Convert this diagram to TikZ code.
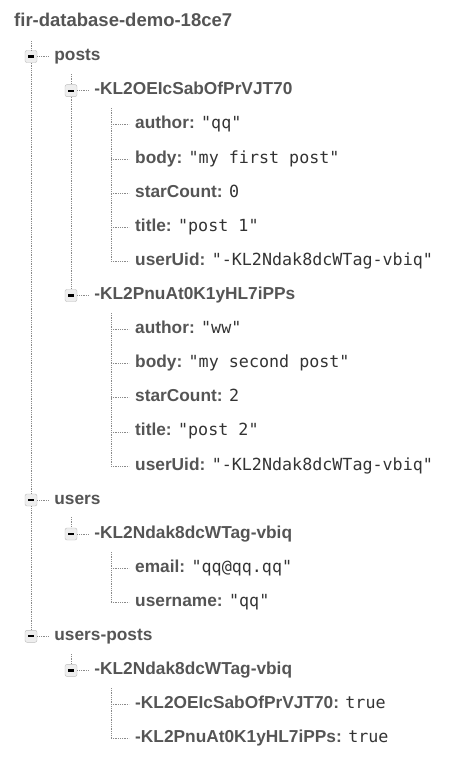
\documentclass[tikz,border=0pt]{standalone}
\usepackage{fontspec}
\setmainfont{Liberation Sans}
\setmonofont{DejaVu Sans Mono}
\usepackage{xcolor}
\usepackage{tikz}
\usetikzlibrary{positioning}

\definecolor{keygray}{HTML}{555555}
\definecolor{valgray}{HTML}{333333}
\definecolor{linegray}{HTML}{8A8A8A}
\definecolor{boxfill}{HTML}{EEEEEE}
\definecolor{boxline}{HTML}{BBBBBB}

\newcommand{\kv}[2]{\textbf{#1:} {\mdseries\ttfamily\color{valgray}\fontsize{16.7}{18}\selectfont #2}}

\begin{document}
\begin{tikzpicture}[
  x=1pt, y=-1pt,
  toggle/.style={draw=boxline, fill=boxfill, rounded corners=2pt, minimum size=12pt, inner sep=0pt,
    path picture={\draw[black, line width=2.2pt] ([xshift=-3pt]path picture bounding box.center) -- ++(6pt,0);}},
  keylabel/.style={anchor=west, inner sep=0pt, text height=12pt, text depth=4pt, text=keygray,
    font=\fontsize{17.3}{20}\selectfont\bfseries},
  leaflabel/.style={anchor=west, inner sep=0pt, text height=12pt, text depth=4pt, text=keygray,
    font=\fontsize{17.3}{20}\selectfont},
  tree/.style={draw=linegray, densely dotted, line width=0.8pt}
]
\useasboundingbox (0,0) rectangle (474,771);

% root
\node[keylabel, font=\fontsize{18.5}{20}\selectfont\bfseries] (root) at (14,23) {fir-database-demo-18ce7};
\coordinate (root-stub) at (31,41);

% posts
\node[toggle] (posts-t) at (31,56.5) {};
\node[keylabel, right=17pt of posts-t] (posts) {posts};
\coordinate (posts-stub) at (71,74);

\node[toggle] (p1-t) at (71,90.6) {};
\node[keylabel, right=17pt of p1-t] (p1) {-KL2OEIcSabOfPrVJT70};
\coordinate (p1-stub) at (111,108);
\coordinate (p1-author-b) at (111,124.8);
\coordinate (p1-body-b) at (111,159);
\coordinate (p1-star-b) at (111,193.1);
\coordinate (p1-title-b) at (111,227.3);
\coordinate (p1-uid-b) at (111,261.4);
\node[leaflabel, right=24pt of p1-author-b] (p1-author) {\kv{author}{"qq"}};
\node[leaflabel, right=24pt of p1-body-b] (p1-body) {\kv{body}{"my first post"}};
\node[leaflabel, right=24pt of p1-star-b] (p1-star) {\kv{starCount}{0}};
\node[leaflabel, right=24pt of p1-title-b] (p1-title) {\kv{title}{"post 1"}};
\node[leaflabel, right=24pt of p1-uid-b] (p1-uid) {\kv{userUid}{"-KL2Ndak8dcWTag-vbiq"}};

\node[toggle] (p2-t) at (71,295.5) {};
\node[keylabel, right=17pt of p2-t] (p2) {-KL2PnuAt0K1yHL7iPPs};
\coordinate (p2-stub) at (111,313);
\coordinate (p2-author-b) at (111,329.6);
\coordinate (p2-body-b) at (111,363.7);
\coordinate (p2-star-b) at (111,397.8);
\coordinate (p2-title-b) at (111,431.9);
\coordinate (p2-uid-b) at (111,466);
\node[leaflabel, right=24pt of p2-author-b] (p2-author) {\kv{author}{"ww"}};
\node[leaflabel, right=24pt of p2-body-b] (p2-body) {\kv{body}{"my second post"}};
\node[leaflabel, right=24pt of p2-star-b] (p2-star) {\kv{starCount}{2}};
\node[leaflabel, right=24pt of p2-title-b] (p2-title) {\kv{title}{"post 2"}};
\node[leaflabel, right=24pt of p2-uid-b] (p2-uid) {\kv{userUid}{"-KL2Ndak8dcWTag-vbiq"}};

% users
\node[toggle] (users-t) at (31,500) {};
\node[keylabel, right=17pt of users-t] (users) {users};
\coordinate (users-stub) at (71,517);

\node[toggle] (u1-t) at (71,534) {};
\node[keylabel, right=17pt of u1-t] (u1) {-KL2Ndak8dcWTag-vbiq};
\coordinate (u1-stub) at (111,552);
\coordinate (u1-email-b) at (111,568.1);
\coordinate (u1-name-b) at (111,602.2);
\node[leaflabel, right=24pt of u1-email-b] (u1-email) {\kv{email}{"qq@qq.qq"}};
\node[leaflabel, right=24pt of u1-name-b] (u1-name) {\kv{username}{"qq"}};

% users-posts
\node[toggle] (up-t) at (31,636.3) {};
\node[keylabel, right=17pt of up-t] (up) {users-posts};
\coordinate (up-stub) at (71,654);

\node[toggle] (up1-t) at (71,670.4) {};
\node[keylabel, right=17pt of up1-t] (up1) {-KL2Ndak8dcWTag-vbiq};
\coordinate (up1-stub) at (111,688);
\coordinate (up1-a-b) at (111,704.5);
\coordinate (up1-b-b) at (111,738.6);
\node[leaflabel, right=24pt of up1-a-b] (up1-a) {\kv{-KL2OEIcSabOfPrVJT70}{true}};
\node[leaflabel, right=24pt of up1-b-b] (up1-b) {\kv{-KL2PnuAt0K1yHL7iPPs}{true}};

% vertical guides
\draw[tree] (root-stub) -- (posts-t);
\draw[tree] (posts-t) -- (users-t);
\draw[tree] (users-t) -- (up-t);
\draw[tree] (posts-stub) -- (p1-t);
\draw[tree] (p1-t) -- (p2-t);
\draw[tree] (users-stub) -- (u1-t);
\draw[tree] (up-stub) -- (up1-t);
\draw[tree] (p1-stub) -- (p1-uid-b);
\draw[tree] (p2-stub) -- (p2-uid-b);
\draw[tree] (u1-stub) -- (u1-name-b);
\draw[tree] (up1-stub) -- (up1-b-b);

% horizontal branches
\draw[tree, shorten >=5pt] (posts-t) -- (posts);
\draw[tree, shorten >=5pt] (users-t) -- (users);
\draw[tree, shorten >=5pt] (up-t) -- (up);
\draw[tree, shorten >=5pt] (p1-t) -- (p1);
\draw[tree, shorten >=5pt] (p2-t) -- (p2);
\draw[tree, shorten >=5pt] (u1-t) -- (u1);
\draw[tree, shorten >=5pt] (up1-t) -- (up1);
\draw[tree, shorten >=6pt] (p1-author-b) -- (p1-author);
\draw[tree, shorten >=6pt] (p1-body-b) -- (p1-body);
\draw[tree, shorten >=6pt] (p1-star-b) -- (p1-star);
\draw[tree, shorten >=6pt] (p1-title-b) -- (p1-title);
\draw[tree, shorten >=6pt] (p1-uid-b) -- (p1-uid);
\draw[tree, shorten >=6pt] (p2-author-b) -- (p2-author);
\draw[tree, shorten >=6pt] (p2-body-b) -- (p2-body);
\draw[tree, shorten >=6pt] (p2-star-b) -- (p2-star);
\draw[tree, shorten >=6pt] (p2-title-b) -- (p2-title);
\draw[tree, shorten >=6pt] (p2-uid-b) -- (p2-uid);
\draw[tree, shorten >=6pt] (u1-email-b) -- (u1-email);
\draw[tree, shorten >=6pt] (u1-name-b) -- (u1-name);
\draw[tree, shorten >=6pt] (up1-a-b) -- (up1-a);
\draw[tree, shorten >=6pt] (up1-b-b) -- (up1-b);
\end{tikzpicture}
\end{document}
